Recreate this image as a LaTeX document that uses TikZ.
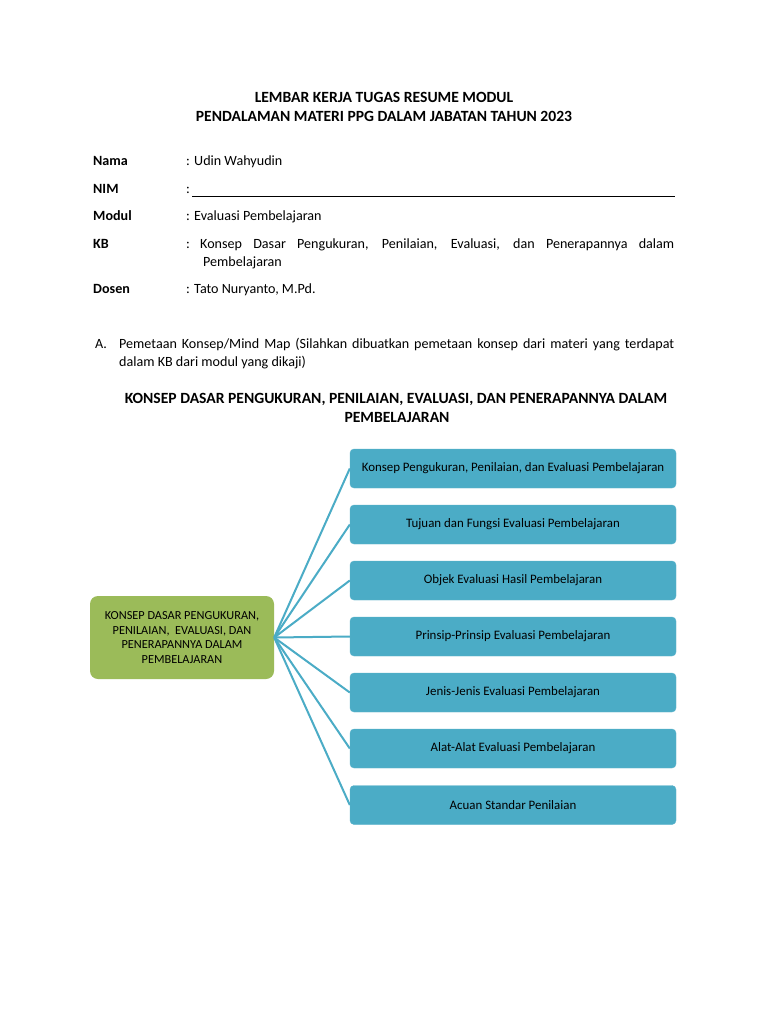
\documentclass[tikz,border=0pt]{standalone}
\usepackage{fontspec}
\setmainfont{Carlito}
\definecolor{boxblue}{HTML}{4BACC6}
\definecolor{boxgreen}{HTML}{9BBB59}
\begin{document}
\begin{tikzpicture}[x=1pt,y=-1pt,
  txt/.style={inner sep=0pt,anchor=base west,font=\fontsize{14.1}{17}\selectfont},
  lbl/.style={txt,font=\fontsize{14.1}{17}\selectfont\bfseries},
  btxt/.style={inner sep=0pt,anchor=base,font=\fontsize{15.6}{18}\selectfont\bfseries},
  branch/.style={draw=boxblue!90!white,fill=boxblue,rounded corners=4pt,minimum width=326pt,minimum height=39pt,inner sep=0pt,font=\fontsize{12.9}{15}\selectfont,text=black},
  hub/.style={fill=boxgreen,rounded corners=8pt,minimum width=184pt,minimum height=83pt,inner sep=0pt,align=center,font=\fontsize{12.3}{14.8}\selectfont,text=black},
  link/.style={draw=boxblue,line width=2pt}]
\useasboundingbox (0,0) rectangle (768,1024);
\fill[white] (0,0) rectangle (768,1024);
% titles
\node[btxt] (t1) at (384,103) {LEMBAR KERJA TUGAS RESUME MODUL};
\node[btxt] (t2) at (384,122) {PENDALAMAN MATERI PPG DALAM JABATAN TAHUN 2023};
% identity
\node[lbl] (l1) at (93,166) {Nama};
\node[lbl] (l2) at (93,194) {NIM};
\node[lbl] (l3) at (93,221) {Modul};
\node[lbl] (l4) at (93,248) {KB};
\node[lbl] (l5) at (93,293) {Dosen};
\node[txt] (v1) at (186,166) {: Udin Wahyudin};
\node[txt] (v2) at (186,194) {:\,\rule[-2.5pt]{483pt}{0.7pt}};
\node[txt] (v3) at (186,221) {: Evaluasi Pembelajaran};
\node[txt] (v4c) at (186,248) {:};
\node[txt] (v4) at (200,248) {\makebox[474pt][s]{Konsep Dasar Pengukuran, Penilaian, Evaluasi, dan Penerapannya dalam}};
\node[txt] (v4b) at (203,266) {Pembelajaran};
\node[txt] (v5) at (186,293) {: Tato Nuryanto, M.Pd.};
% section A
\node[txt] (a0) at (95,348) {A.};
\node[txt] (a1) at (119,348) {\makebox[555pt][s]{Pemetaan Konsep/Mind Map (Silahkan dibuatkan pemetaan konsep dari materi yang terdapat}};
\node[txt] (a2) at (119,366) {dalam KB dari modul yang dikaji)};
\node[btxt] (h1) at (396,403) {KONSEP DASAR PENGUKURAN, PENILAIAN, EVALUASI, DAN PENERAPANNYA DALAM};
\node[btxt] (h2) at (397,422) {PEMBELAJARAN};
% mind map
\node[hub] (hub) at (182,637.5) {KONSEP DASAR PENGUKURAN,\\PENILAIAN,\ \ EVALUASI, DAN\\PENERAPANNYA DALAM\\PEMBELAJARAN};
\node[branch] (b1) at (513,468.5) {Konsep Pengukuran, Penilaian, dan Evaluasi Pembelajaran};
\node[branch] (b2) at (513,524.5) {Tujuan dan Fungsi Evaluasi Pembelajaran};
\node[branch] (b3) at (513,580.5) {Objek Evaluasi Hasil Pembelajaran};
\node[branch] (b4) at (513,636.5) {Prinsip-Prinsip Evaluasi Pembelajaran};
\node[branch] (b5) at (513,692.5) {Jenis-Jenis Evaluasi Pembelajaran};
\node[branch] (b6) at (513,748.5) {Alat-Alat Evaluasi Pembelajaran};
\node[branch] (b7) at (513,805) {Acuan Standar Penilaian};
\foreach \b in {b1,b2,b3,b4,b5,b6,b7}{
  \draw[link] (hub.east) -- (\b.west);
}
\end{tikzpicture}
\end{document}
